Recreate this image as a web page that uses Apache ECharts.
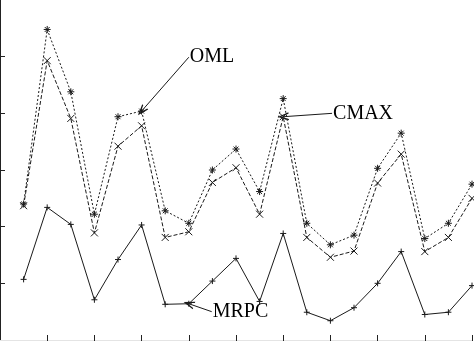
<!DOCTYPE html>
<html>
<head>
<meta charset="utf-8">
<style>
  html, body { margin: 0; padding: 0; background: #fff; }
  #chart { width: 474px; height: 341px; }
</style>
<script src="https://cdn.jsdelivr.net/npm/echarts@6/dist/echarts.min.js"></script>
</head>
<body>
<div id="chart"></div>
<script>
// Test instances 1..20
const instances = [1, 2, 3, 4, 5, 6, 7, 8, 9, 10, 11, 12, 13, 14, 15, 16, 17, 18, 19, 20];

// Objective values per instance for each method
const omlValues  = [2.40, 5.48, 4.38, 2.22, 3.94, 4.04, 2.28, 2.06, 3.00, 3.37, 2.62, 4.26, 2.06, 1.68, 1.85, 3.03, 3.65, 1.79, 2.06, 2.75];
const cmaxValues = [2.37, 4.93, 3.91, 1.89, 3.42, 3.78, 1.81, 1.91, 2.78, 3.04, 2.22, 3.94, 1.81, 1.46, 1.57, 2.77, 3.28, 1.56, 1.81, 2.50];
const mrpcValues = [1.07, 2.34, 2.04, 0.71, 1.42, 2.03, 0.63, 0.64, 1.04, 1.44, 0.68, 1.88, 0.49, 0.34, 0.57, 1.00, 1.56, 0.45, 0.49, 0.96];

// Tick positions (no tick labels are printed)
const xTicks = [2, 4, 6, 8, 10, 12, 14, 16, 18, 20];
const yTicks = [1, 2, 3, 4, 5];

// Callout anchors: [label x, label y, instance pointed at]
const omlCallout  = [8.0, 4.99, 6];
const cmaxCallout = [14.07, 4.0, 12];
const mrpcCallout = [8.97, 0.50, 8];

const INK = '#1a1a1a';
const FONT = '"Liberation Serif", "Times New Roman", serif';

const plusSym  = 'path://M5,0L5,10M0,5L10,5';
const crossSym = 'path://M0,0L10,10M10,0L0,10';
const starSym  = 'path://M5,0L5,10M0,5L10,5M1.5,1.5L8.5,8.5M8.5,1.5L1.5,8.5';
const arrowHead = 'path://M5,0L10,14L8.2,14L5,4.5L1.8,14L0,14Z';

function pairs(vals) {
  return instances.map((x, i) => [x, vals[i]]);
}

function callout(name, anchor, vals) {
  const target = [anchor[2], vals[anchor[2] - 1]];
  return {
    markLine: {
      silent: true,
      animation: false,
      symbol: ['none', arrowHead],
      symbolSize: [8, 11],
      lineStyle: { color: INK, width: 1, type: 'solid' },
      label: { show: false },
      data: [[{ coord: [anchor[0], anchor[1]] }, { coord: target }]]
    },
    markPoint: {
      silent: true,
      animation: false,
      symbol: 'circle',
      symbolSize: 0,
      label: {
        show: true,
        position: 'right',
        distance: 1,
        formatter: name,
        color: '#000',
        fontFamily: FONT,
        fontSize: 20
      },
      data: [{ coord: [anchor[0], anchor[1]] }]
    }
  };
}

function lineSeries(name, vals, symbol, size, dash, anchor) {
  return Object.assign({
    name: name,
    type: 'line',
    data: pairs(vals),
    symbol: symbol,
    symbolSize: size,
    showSymbol: true,
    lineStyle: { color: INK, width: 1, type: dash },
    itemStyle: { color: 'transparent', borderColor: INK, borderWidth: 1 },
    emphasis: { disabled: true },
    z: 3
  }, callout(name, anchor, vals));
}

const chart = echarts.init(document.getElementById('chart'), null, { renderer: 'canvas' });

const tickStyle = { lineStyle: { color: '#222', width: 1 } };

chart.setOption({
  animation: false,
  backgroundColor: '#fff',
  grid: { left: 0, right: 2, top: 0, bottom: 1, containLabel: false },
  xAxis: [
    {
      type: 'value', min: 0, max: 20, position: 'bottom',
      axisLine: { show: true, lineStyle: { color: '#e4e4e4', width: 1 } },
      axisTick: Object.assign({ show: true, inside: true, length: 5, customValues: xTicks }, tickStyle),
      axisLabel: { show: false },
      splitLine: { show: false }
    },
    {
      type: 'value', min: 0, max: 20, position: 'top',
      axisLine: { show: false },
      axisTick: Object.assign({ show: true, inside: true, length: 5, customValues: xTicks }, tickStyle),
      axisLabel: { show: false },
      splitLine: { show: false }
    }
  ],
  yAxis: [
    {
      type: 'value', min: 0, max: 6, position: 'left',
      axisLine: { show: false },
      axisTick: Object.assign({ show: true, inside: true, length: 5, customValues: yTicks }, tickStyle),
      axisLabel: { show: false },
      splitLine: { show: false }
    },
    {
      type: 'value', min: 0, max: 6, position: 'right',
      axisLine: { show: true, lineStyle: { color: '#222', width: 1 } },
      axisTick: Object.assign({ show: true, inside: true, length: 5, customValues: yTicks }, tickStyle),
      axisLabel: { show: false },
      splitLine: { show: false }
    }
  ],
  series: [
    lineSeries('OML', omlValues, starSym, 7, [2, 2], omlCallout),
    lineSeries('CMAX', cmaxValues, crossSym, 7, [4, 2], cmaxCallout),
    lineSeries('MRPC', mrpcValues, plusSym, 6, 'solid', mrpcCallout)
  ]
});
</script>
</body>
</html>
